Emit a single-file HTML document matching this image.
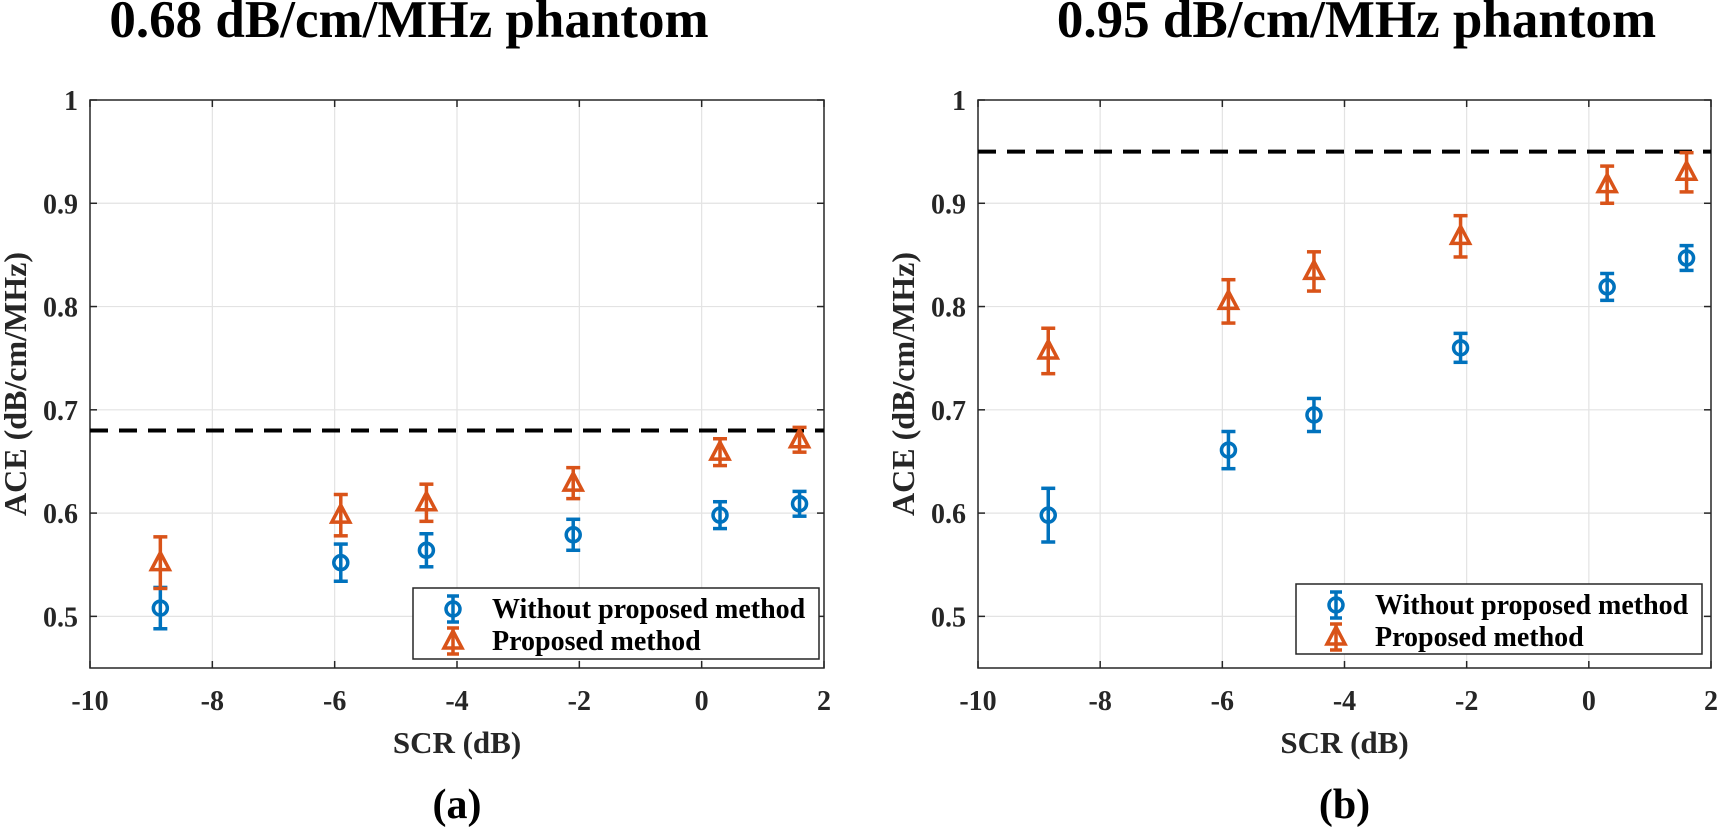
<!DOCTYPE html>
<html><head><meta charset="utf-8"><style>
html,body{margin:0;padding:0;background:#fff;}
svg{display:block;font-family:"Liberation Serif",serif;font-weight:bold;}
</style></head><body>
<svg id="s" width="1720" height="829" viewBox="0 0 1720 829" xmlns="http://www.w3.org/2000/svg"></svg>
<script>
const S=document.getElementById('s');let h='';
const B='#0072BD',O='#D95319';
function plot(L,R,T,Bt,title,tdx,lab,ref,blue,orange,leg){
 const X=v=>L+(v+10)/12*(R-L), Y=v=>T+(1-v)/0.55*(Bt-T);
 for(let v=-8;v<=0;v+=2)h+=`<line x1="${X(v)}" y1="${T}" x2="${X(v)}" y2="${Bt}" stroke="#e3e3e3" stroke-width="1.2"/>`;
 for(let v=0.5;v<=0.91;v+=0.1)h+=`<line x1="${L}" y1="${Y(v)}" x2="${R}" y2="${Y(v)}" stroke="#e3e3e3" stroke-width="1.2"/>`;
 h+=`<rect x="${L}" y="${T}" width="${R-L}" height="${Bt-T}" fill="none" stroke="#262626" stroke-width="1.5"/>`;
 for(let v=-10;v<=2;v+=2){const x=X(v);h+=`<line x1="${x}" y1="${Bt}" x2="${x}" y2="${Bt-7}" stroke="#262626" stroke-width="1.5"/><line x1="${x}" y1="${T}" x2="${x}" y2="${T+7}" stroke="#262626" stroke-width="1.5"/><text x="${x}" y="${Bt+42}" font-size="28" text-anchor="middle" fill="#262626">${v}</text>`;}
 [0.5,0.6,0.7,0.8,0.9,1].forEach(v=>{const y=Y(v);h+=`<line x1="${L}" y1="${y}" x2="${L+7}" y2="${y}" stroke="#262626" stroke-width="1.5"/><line x1="${R}" y1="${y}" x2="${R-7}" y2="${y}" stroke="#262626" stroke-width="1.5"/><text x="${L-12}" y="${y+10}" font-size="28" text-anchor="end" fill="#262626">${v==1?'1':v.toFixed(1)}</text>`;});
 h+=`<line x1="${L}" y1="${Y(ref)}" x2="${R}" y2="${Y(ref)}" stroke="#000" stroke-width="4" stroke-dasharray="18,11"/>`;
 const xs=[-8.85,-5.9,-4.5,-2.1,0.3,1.6];
 function eb(x,y,e,c){h+=`<line x1="${x}" y1="${Y(y-e)}" x2="${x}" y2="${Y(y+e)}" stroke="${c}" stroke-width="3.5"/><line x1="${x-7}" y1="${Y(y-e)}" x2="${x+7}" y2="${Y(y-e)}" stroke="${c}" stroke-width="3.5"/><line x1="${x-7}" y1="${Y(y+e)}" x2="${x+7}" y2="${Y(y+e)}" stroke="${c}" stroke-width="3.5"/>`;}
 function circ(x,y){h+=`<circle cx="${x}" cy="${y}" r="7" fill="none" stroke="${B}" stroke-width="3.5"/>`;}
 function tri(x,y){h+=`<polygon points="${x},${y-10} ${x+9},${y+7} ${x-9},${y+7}" fill="none" stroke="${O}" stroke-width="3.5"/>`;}
 xs.forEach((v,i)=>{const x=X(v);eb(x,blue[i][0],blue[i][1],B);circ(x,Y(blue[i][0]));eb(x,orange[i][0],orange[i][1],O);tri(x,Y(orange[i][0]));});
 const [lx,ly,lw,lh]=leg;
 h+=`<rect x="${lx}" y="${ly}" width="${lw}" height="${lh}" fill="#fff" stroke="#262626" stroke-width="1.5"/>`;
 const mx=lx+40,y1=ly+21,y2=ly+53;
 h+=`<line x1="${mx}" y1="${y1-13}" x2="${mx}" y2="${y1+13}" stroke="${B}" stroke-width="3.5"/><line x1="${mx-6}" y1="${y1-13}" x2="${mx+6}" y2="${y1-13}" stroke="${B}" stroke-width="3.5"/><line x1="${mx-6}" y1="${y1+13}" x2="${mx+6}" y2="${y1+13}" stroke="${B}" stroke-width="3.5"/>`;circ(mx,y1);
 h+=`<line x1="${mx}" y1="${y2-13}" x2="${mx}" y2="${y2+13}" stroke="${O}" stroke-width="3.5"/><line x1="${mx-6}" y1="${y2-13}" x2="${mx+6}" y2="${y2-13}" stroke="${O}" stroke-width="3.5"/><line x1="${mx-6}" y1="${y2+13}" x2="${mx+6}" y2="${y2+13}" stroke="${O}" stroke-width="3.5"/>`;tri(mx,y2);
 h+=`<text x="${lx+79}" y="${y1+9}" font-size="28" fill="#000">Without proposed method</text><text x="${lx+79}" y="${y2+9}" font-size="28" fill="#000">Proposed method</text>`;
 const cx=(L+R)/2;
 h+=`<text x="${cx+tdx}" y="37" font-size="53" text-anchor="middle" fill="#000">${title}</text>`;
 h+=`<text x="${cx}" y="${Bt+85}" font-size="31" text-anchor="middle" fill="#262626">SCR (dB)</text>`;
 h+=`<text x="${cx}" y="${Bt+150}" font-size="42" text-anchor="middle" fill="#000">${lab}</text>`;
 h+=`<text transform="translate(${L-64},${(T+Bt)/2}) rotate(-90)" font-size="32" text-anchor="middle" fill="#262626">ACE (dB/cm/MHz)</text>`;
}
plot(90,824,100,668,'0.68 dB/cm/MHz phantom',-48,'(a)',0.68,
 [[0.508,0.02],[0.552,0.018],[0.564,0.016],[0.579,0.015],[0.598,0.013],[0.609,0.012]],
 [[0.552,0.025],[0.598,0.02],[0.610,0.018],[0.629,0.015],[0.659,0.013],[0.671,0.012]],
 [413,588,406,71]);
plot(978,1711,100,668,'0.95 dB/cm/MHz phantom',12,'(b)',0.95,
 [[0.598,0.026],[0.661,0.018],[0.695,0.016],[0.760,0.014],[0.819,0.013],[0.847,0.012]],
 [[0.757,0.022],[0.805,0.021],[0.834,0.019],[0.868,0.02],[0.918,0.018],[0.930,0.019]],
 [1296,584,406,70]);
S.innerHTML=h;
</script>
</body></html>
